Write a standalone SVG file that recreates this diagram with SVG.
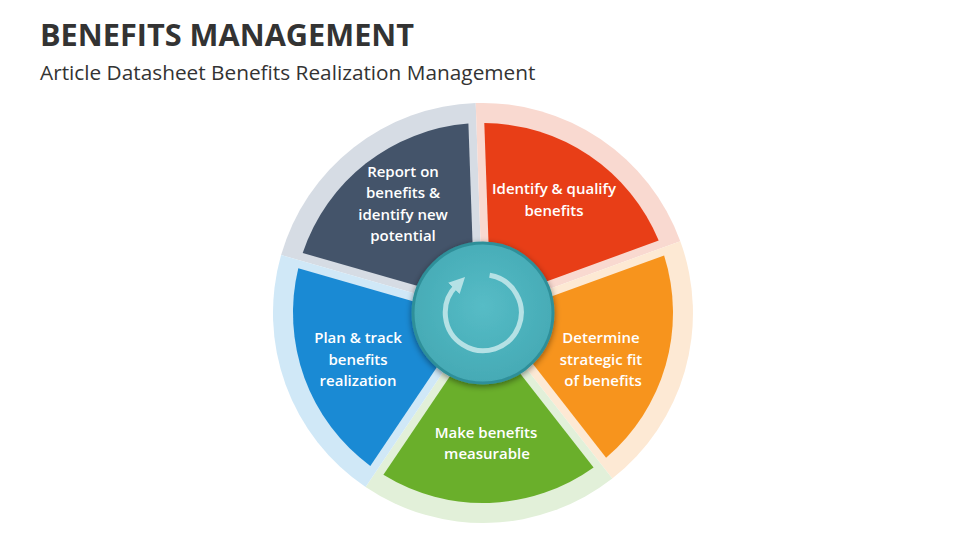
<svg xmlns="http://www.w3.org/2000/svg" width="960" height="540" viewBox="0 0 960 540">
<style>
.t{font-family:"Open Sans","Noto Sans",sans-serif;font-weight:600;font-size:15px;fill:#fff;text-anchor:middle}
</style>
<defs>
<filter id="sh" x="-30%" y="-30%" width="160%" height="160%"><feDropShadow dx="0" dy="2" stdDeviation="3" flood-opacity="0.45"/></filter>
<radialGradient id="cg" cx="50%" cy="45%" r="55%"><stop offset="0" stop-color="#56bcc6"/><stop offset="1" stop-color="#45aab5"/></radialGradient>
<marker id="ah" viewBox="0 0 10 10" refX="2" refY="5" markerWidth="3.2" markerHeight="3.2" orient="auto"><path d="M0,0 L10,5 L0,10 Z" fill="#b5e1e5"/></marker>
</defs>
<rect width="960" height="540" fill="#fff"/>
<text x="40" y="46" font-family="'Open Sans','Noto Sans',sans-serif" font-weight="700" font-size="30.7" fill="#333">BENEFITS MANAGEMENT</text>
<text x="40" y="80" font-family="'Open Sans','Noto Sans',sans-serif" font-size="20.8" fill="#333">Article Datasheet Benefits Realization Management</text>
<g id="seg-gray"><path d="M483,313 L281.1,255.1 A210,210 0 0 1 475.7,103.1 Z" fill="#d6dce4"/><path d="M474.6,302.3 L302.7,253 A190,190 0 0 1 468.4,123.6 Z" fill="#44546a"/>
<text class="t" x="403" y="177">Report on</text><text class="t" x="403" y="198">benefits &amp;</text><text class="t" x="403" y="220">identify new</text><text class="t" x="403" y="241">potential</text></g>
<g id="seg-red"><path d="M483,313 L475.7,103.1 A210,210 0 0 1 680.3,241.2 Z" fill="#f9d9d0"/><path d="M490.6,301.7 L484.3,123 A190,190 0 0 1 658.7,240.6 Z" fill="#e83e17"/>
<text class="t" x="554" y="194">Identify &amp; qualify</text><text class="t" x="554" y="216">benefits</text></g>
<g id="seg-orange"><path d="M483,313 L680.3,241.2 A210,210 0 0 1 612.3,478.5 Z" fill="#fde9d4"/><path d="M496.1,316.7 L664.1,255.5 A190,190 0 0 1 606.1,457.7 Z" fill="#f7941d"/>
<text class="t" x="601" y="343">Determine</text><text class="t" x="601" y="365">strategic fit</text><text class="t" x="603" y="386">of benefits</text></g>
<g id="seg-green"><path d="M483,313 L612.3,478.5 A210,210 0 0 1 365.6,487.1 Z" fill="#e2f0d9"/><path d="M483.5,326.6 L593.6,467.5 A190,190 0 0 1 383.4,474.8 Z" fill="#6aaf2b"/>
<text class="t" x="486" y="438">Make benefits</text><text class="t" x="487" y="459">measurable</text></g>
<g id="seg-blue"><path d="M483,313 L365.6,487.1 A210,210 0 0 1 281.1,255.1 Z" fill="#d0e8f7"/><path d="M470.2,317.7 L370.3,465.9 A190,190 0 0 1 298.3,268.3 Z" fill="#1a8ad4"/>
<text class="t" x="358" y="343">Plan &amp; track</text><text class="t" x="358" y="365">benefits</text><text class="t" x="358" y="386">realization</text></g>
<g id="center"><circle cx="483" cy="313" r="70" fill="url(#cg)" stroke="#2f8f99" stroke-width="3" filter="url(#sh)"/>
<path d="M489.6,275.2 A38,38 0 1 1 456.1,286.1" fill="none" stroke="#b5e1e5" stroke-width="5" marker-end="url(#ah)"/></g>
</svg>
